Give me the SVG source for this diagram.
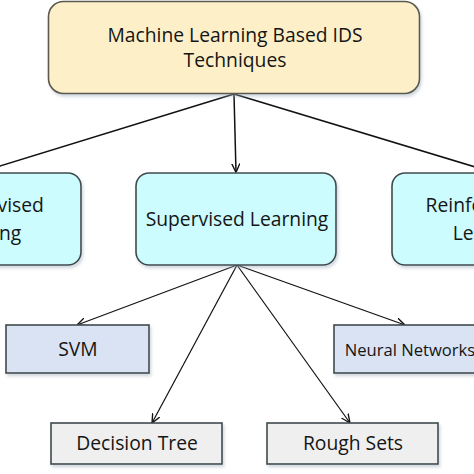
<svg xmlns="http://www.w3.org/2000/svg" width="474" height="474" viewBox="0 0 474 474">
<style>
text{font-family:"Open Sans","Liberation Sans",sans-serif;fill:#151515;text-anchor:middle}
.t{font-size:19.3px}
.s{font-size:16.6px}
.box{stroke:#3f4a4d;stroke-width:1.6}
.top{fill:#fdf0c8;stroke:#5a5850}
.mid{fill:#ccfcfd}
.blue{fill:#dae3f3}
.grey{fill:#efefef}
.ln{stroke:#111;stroke-width:1.5;fill:none}
.thin{stroke-width:1.2}
</style>
<defs>
<marker id="ah" viewBox="0 0 10 10" refX="10" refY="5" markerWidth="9" markerHeight="9" markerUnits="userSpaceOnUse" orient="auto">
<path d="M0,0.5 L10,5 L0,9.5" fill="none" stroke="#111" stroke-width="1.5"/>
</marker>
<filter id="sh" x="-10%" y="-10%" width="130%" height="140%">
<feDropShadow dx="1.5" dy="2.5" stdDeviation="1.5" flood-color="#9aa8b8" flood-opacity="0.45"/>
</filter>
</defs>
<g id="connectors">
<line class="ln" x1="234" y1="94" x2="-23" y2="173"/>
<line class="ln" x1="234" y1="94" x2="236" y2="172.5" marker-end="url(#ah)"/>
<line class="ln" x1="234" y1="94" x2="495" y2="173"/>
<line class="ln thin" x1="237" y1="265" x2="77" y2="325" marker-end="url(#ah)"/>
<line class="ln thin" x1="237" y1="265" x2="152" y2="423" marker-end="url(#ah)"/>
<line class="ln thin" x1="237" y1="265" x2="350" y2="423" marker-end="url(#ah)"/>
<line class="ln thin" x1="237" y1="265" x2="405" y2="325" marker-end="url(#ah)"/>
</g>
<g id="n-root">
<rect class="box top" x="48.5" y="1.5" width="371" height="92" rx="15" filter="url(#sh)"/>
<text class="t" x="235" y="42">Machine Learning Based IDS</text>
<text class="t" x="235" y="67">Techniques</text>
</g>
<g id="n-unsup">
<rect class="box mid" x="-119" y="173" width="200" height="92" rx="13" filter="url(#sh)"/>
<text class="t" x="-18" y="212">Unsupervised</text>
<text class="t" x="-18" y="240">Learning</text>
</g>
<g id="n-sup">
<rect class="box mid" x="136" y="173" width="200" height="92" rx="13" filter="url(#sh)"/>
<text class="t" x="237" y="226">Supervised Learning</text>
</g>
<g id="n-reinf">
<rect class="box mid" x="392" y="173" width="200" height="92" rx="13" filter="url(#sh)"/>
<text class="t" x="492" y="212">Reinforcement</text>
<text class="t" x="492" y="240">Learning</text>
</g>
<g id="n-svm">
<rect class="box blue" x="6" y="325" width="143" height="48" filter="url(#sh)"/>
<text class="t" x="78" y="356">SVM</text>
</g>
<g id="n-nn">
<rect class="box blue" x="334" y="325" width="170" height="48" filter="url(#sh)"/>
<text class="s" x="410" y="356">Neural Networks</text>
</g>
<g id="n-dt">
<rect class="box grey" x="51" y="423" width="171" height="41" filter="url(#sh)"/>
<text class="t" x="137" y="450">Decision Tree</text>
</g>
<g id="n-rs">
<rect class="box grey" x="267" y="423" width="171" height="41" filter="url(#sh)"/>
<text class="t" x="353" y="450">Rough Sets</text>
</g>
</svg>
